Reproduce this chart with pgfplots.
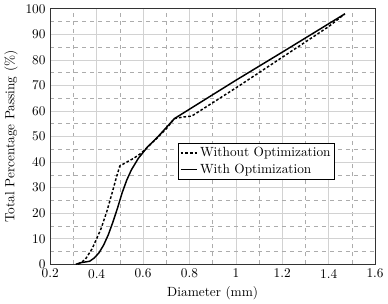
\documentclass[border=0pt]{standalone}
\usepackage{pgfplots}
\pgfplotsset{compat=1.18}
\begin{document}
\begin{tikzpicture}
\begin{axis}[
  scale only axis,
  width=244pt, height=192pt,
  xmin=0.2, xmax=1.6, ymin=0, ymax=100,
  xtick={0.2,0.4,...,1.6},
  xticklabels={0.2,0.4,0.6,0.8,1,1.2,1.4,1.6},
  ytick={0,10,...,100},
  minor x tick num=1, minor y tick num=1,
  grid=both,
  major grid style={gray!35, line width=0.5pt},
  minor grid style={gray!65, dashed, line width=0.4pt},
  tick style={draw=none},
  axis line style={black!80, line width=0.8pt},
  xlabel={Diameter (mm)},
  ylabel={Total Percentage Passing (\%)},
  xlabel style={yshift=1pt},
  ylabel style={yshift=-1pt},
  legend style={at={(0.394,0.475)}, anchor=north west, draw=black, line width=0.6pt, inner sep=1pt, row sep=0pt, font=\normalsize},
  legend cell align=left,
  legend image code/.code={\draw[#1] (0pt,0pt) -- (12pt,0pt);},
]
\addplot[black, line width=1.1pt, dash pattern=on 2pt off 1.5pt] coordinates {
(0.32,0) (0.35,1.8) (0.38,6) (0.40,10) (0.42,14.2) (0.445,21) (0.47,29) (0.485,34) (0.50,38.5) (0.53,40) (0.56,41.5) (0.585,43) (0.61,45) (0.65,48.5) (0.70,53) (0.735,57) (0.77,57.6) (0.81,58) (1.0,69) (1.2,81) (1.4,93) (1.47,98)
};
\addlegendentry{Without Optimization}
\addplot[black, line width=1.1pt] coordinates {
(0.31,0) (0.33,0.6) (0.37,1.2) (0.39,2.5) (0.41,4.5) (0.43,7.5) (0.45,11.5) (0.47,16.5) (0.49,22) (0.51,28) (0.53,33) (0.55,37) (0.58,41.5) (0.62,46) (0.66,49.5) (0.70,53.5) (0.735,57) (1.0,72) (1.2,83) (1.47,98)
};
\addlegendentry{With Optimization}
\end{axis}
\end{tikzpicture}
\end{document}
